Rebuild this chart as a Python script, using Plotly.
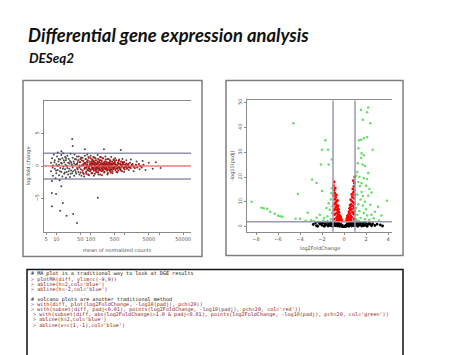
import plotly.graph_objects as go

W, H = 474, 355
def px(x): return x / W
def py(y): return 1 - y / H

title_text = "Differential gene expression analysis"
subtitle_text = "DESeq2"

# ---------------- MA plot data: (mean of normalized counts, log fold change)
ma_nonsig = [
    (7, 0.5), (7, -0.8), (7.5, 1.2), (8, -1.5), (8, 0.1), (8.5, 1.8), (9, -0.4), (9, 0.9), (9.5, -1.9),
    (10, 0.3), (10, -1.1), (10.5, 1.5), (11, -0.6), (11, 2.1), (11.5, 0.7), (12, -1.4), (12, 0.2),
    (12.5, -2.2), (13, 1.0), (13, -0.3), (14, 1.7), (14, -0.9), (14.5, 0.4), (15, -1.6), (15, 1.2),
    (16, -0.1), (16, 2.0), (17, -1.2), (17, 0.6), (18, 1.4), (18, -0.5), (19, -1.8), (19, 0.9),
    (20, 0.0), (20, -0.9), (21, 1.6), (22, -1.3), (22, 0.5), (23, 1.1), (24, -0.4), (25, -1.7),
    (25, 0.8), (26, 1.9), (27, -0.7), (28, 0.3), (29, -1.1), (30, 1.3), (30, -0.2), (32, 0.7),
    (33, -1.5), (34, 1.8), (35, -0.6), (36, 0.2), (38, 1.0), (38, -1.2), (40, -0.3), (40, 1.5),
    (7.8, -0.2), (8.8, 0.6), (9.8, -0.7), (10.8, 0.0), (11.8, 1.1), (12.8, -0.8), (13.8, 0.5),
    (15.5, -0.4), (16.5, 0.9), (17.5, -1.0), (18.5, 0.2), (19.5, 1.2), (21, -0.3), (23, -0.8),
    (24, 0.4), (26, -1.2), (27, 0.6), (29, 0.1), (31, -0.8), (33, 0.4), (35, 1.1), (37, -0.9),
    (42, 0.6), (44, -0.9), (45, 1.5), (47, -1.3), (48, 0.1), (50, 1.1), (52, -0.5), (54, -1.5),
    (55, 0.9), (58, 1.3), (60, -1.0), (62, 0.4), (65, -1.6), (68, 1.6), (70, -0.2), (72, 1.1),
    (75, -1.2), (78, 0.7), (80, 1.8), (85, -0.7), (88, 1.3), (90, -1.4), (95, 0.3), (100, 1.6),
    (105, -1.1), (110, 0.8), (115, -0.4), (120, 1.4), (125, -1.5), (130, 0.5), (140, 1.2),
    (150, -0.9), (160, 1.7), (170, -1.3), (180, 0.9), (190, 1.4), (200, -0.6), (215, -1.4),
    (230, 1.2), (250, -1.0), (270, 1.5), (290, 0.4), (310, -1.3), (340, 1.1), (370, -0.8),
    (400, 1.4), (440, -1.1), (480, 0.9), (520, 1.2), (600, -1.0), (680, 1.0), (760, -0.7),
    (850, 1.1), (950, -0.9), (1100, 0.9), (1300, -0.6), (1500, 1.0), (1800, -0.8), (2200, 0.7),
    (2700, -0.5), (3300, 0.8), (4000, -0.6), (5000, 0.5), (6500, -0.4), (8000, 0.6), (11000, -0.3),
    (29, 4.2), (30, 3.1), (68, 2.6), (245, 2.6), (760, 2.5), (14, 2.3),
    (7.4, -4.15), (9.8, -4.3), (7.4, -6.2), (15.5, -5.7), (13, -6.9), (20, -7.7), (31, -7.4),
    (40, -8.8), (162, -4.9), (7.4, -2.3), (14, -3.1),
]
ma_sig = [
    (40, 0.3), (42, -0.5), (44, 0.9), (47, -0.2), (49, 0.6), (51, -1.0), (53, 1.3), (56, 0.1),
    (58, -0.7), (61, 0.8), (63, -1.2), (65, 0.4), (68, -0.3), (70, 0.5), (72, 1.1), (74, -0.9),
    (77, 0.0), (79, 0.2), (81, -0.6), (83, 0.9), (85, -1.3), (87, 1.4), (89, -0.1), (91, -0.4),
    (94, 0.7), (96, -0.8), (98, 0.3), (101, 1.2), (103, 0.1), (106, -0.5), (108, 0.6), (110, -1.1),
    (112, 1.0), (114, -0.2), (117, 0.4), (119, -0.3), (122, 0.8), (125, -0.7), (127, 0.2),
    (129, 1.3), (132, -1.2), (134, 0.0), (137, 0.5), (140, -0.6), (143, 0.9), (146, -0.9),
    (148, 0.3), (151, -0.2), (154, 0.4), (157, -0.4), (160, 0.7), (163, -1.0), (166, 1.1),
    (169, 0.1), (172, -0.7), (175, -0.1), (178, 0.6), (182, -0.5), (186, 0.2), (190, -1.3),
    (194, 0.9), (198, 1.4), (202, 0.3), (206, -0.3), (210, 0.8), (215, -0.8), (220, 0.0),
    (225, 1.2), (230, -0.6), (235, 0.5), (240, -0.2), (246, 0.4), (252, -0.9), (258, 0.7),
    (264, 0.1), (270, -0.5), (276, 1.0), (282, 0.2), (289, -0.4), (296, 0.6), (303, -0.7),
    (310, 1.1), (318, -1.1), (326, 0.0), (334, -0.1), (342, 0.5), (350, -0.6), (360, 0.3),
    (370, 0.9), (380, -0.3), (390, -1.0), (400, 0.1), (410, -0.5), (422, 0.7), (434, -0.8),
    (446, 0.4), (458, -0.2), (470, 1.0), (483, -0.3), (496, 0.3), (510, 0.6), (525, -0.6),
    (540, 0.0), (556, 0.9), (572, -0.9), (590, 0.2), (608, -0.4), (626, 0.5), (645, -0.7),
    (665, 0.8), (686, -0.1), (708, -0.2), (730, 0.4), (755, -0.5), (780, 0.7), (806, 0.1),
    (833, -0.8), (860, 0.6), (890, 0.3), (920, -0.3), (950, 0.6), (985, -0.5), (1020, 0.2),
    (1060, -0.1), (1100, 0.4), (1150, -0.4), (1200, 0.2), (1260, 0.3), (1320, -0.2), (1400, 0.5),
    (1480, -0.3), (1570, 0.1), (1680, 0.3), (1800, -0.1), (1950, -0.3), (2100, 0.2), (2300, -0.2),
    (2550, 0.3), (2800, 0.0), (3100, -0.2), (3500, 0.2),
]
ma_sig_core = [
    (62, 0.15), (66, -0.45), (71, 0.35), (76, -0.25), (82, 0.55), (88, -0.35), (93, 0.1),
    (99, -0.6), (104, 0.45), (109, -0.15), (116, 0.25), (121, -0.45), (128, 0.6), (135, -0.3),
    (141, 0.15), (147, -0.55), (155, 0.35), (161, -0.1), (168, 0.5), (176, -0.35), (184, 0.05),
    (192, -0.65), (200, 0.45), (208, -0.2), (217, 0.3), (226, -0.45), (236, 0.15), (244, -0.05),
    (254, 0.55), (262, -0.35), (272, 0.25), (285, -0.15), (298, 0.4), (312, -0.5), (324, 0.2),
    (338, -0.25), (354, 0.1), (366, 0.6), (384, -0.6), (398, 0.35), (416, -0.1), (430, 0.2),
    (452, -0.45), (476, 0.45), (500, -0.15), (530, 0.25), (560, -0.35), (596, 0.1), (632, -0.2),
    (672, 0.35), (716, -0.4), (768, 0.2), (820, -0.1), (880, 0.45), (940, -0.25), (1040, 0.1),
    (1130, -0.2), (1240, 0.1), (1380, -0.1), (1620, 0.2),
]
ma_zero_line = 0
ma_hlines = [2, -2]
ma_xticks = [5, 10, 50, 100, 500, 1000, 5000, 10000, 50000]
ma_xticklabels = ["5", "10", "50", "100", "500", "", "5000", "", "50000"]
ma_yticks = [-5, 0, 5]

# ---------------- Volcano plot data: (log2FoldChange, -log10(padj))
volc_black = [
    (-2.8, 0.9), (-2.6, 1.5), (-2.5, 0.4), (-2.3, 1.8), (-2.2, 1.1), (-2.0, 0.6), (-1.9, 1.6),
    (-1.8, 0.2), (-1.7, 1.3), (-1.6, 0.8), (-1.5, 1.9), (-1.45, 0.3), (-1.4, 1.0), (-1.3, 1.5),
    (-1.25, 0.5), (-1.2, 1.8), (-1.1, 0.9), (-1.05, 0.2), (-1.0, 1.4), (-0.95, 0.6), (-0.9, 1.7),
    (-0.85, 1.1), (-0.8, 0.4), (-0.75, 1.9), (-0.7, 0.8), (-0.65, 1.3), (-0.6, 0.3), (-0.55, 1.6),
    (-0.5, 0.7), (-0.45, 1.1), (-0.4, 0.2), (-0.35, 0.9), (-0.3, 0.5), (-0.25, 0.3), (-0.2, 0.6),
    (-0.15, 0.1), (-0.1, 0.3), (-0.05, 0.1), (0.0, 0.05), (0.05, 0.15), (0.1, 0.3), (0.15, 0.1),
    (0.2, 0.6), (0.25, 0.3), (0.3, 0.8), (0.35, 0.4), (0.4, 1.1), (0.45, 0.2), (0.5, 1.4),
    (0.55, 0.6), (0.6, 1.8), (0.65, 0.9), (0.7, 0.3), (0.75, 1.5), (0.8, 1.0), (0.85, 0.5),
    (0.9, 1.9), (0.95, 1.2), (1.0, 0.4), (1.05, 1.6), (1.1, 0.8), (1.2, 1.3), (1.25, 0.2),
    (1.3, 1.8), (1.4, 0.7), (1.5, 1.4), (1.6, 0.3), (1.7, 1.1), (1.8, 1.7), (1.9, 0.6),
    (2.0, 1.3), (2.1, 0.2), (2.3, 1.6), (2.4, 0.9), (2.6, 1.2), (2.8, 0.5), (3.0, 1.0), (3.3, 0.7),
    (-2.4, 0.2), (-2.1, 1.4), (-1.75, 0.6), (-1.35, 0.7), (-1.15, 1.2), (-0.7, 1.6), (-0.5, 1.2),
    (-0.3, 0.9), (0.3, 1.2), (0.5, 0.9), (0.7, 1.3), (1.15, 1.9), (1.45, 1.0), (1.75, 0.4),
    (2.2, 1.0), (2.5, 0.4), (3.5, 0.3),
]
volc_red = [
    (-0.2, 2.2), (-0.3, 2.5), (-0.4, 2.3), (-0.5, 2.8), (-0.25, 3.0), (-0.35, 3.4), (-0.45, 3.8),
    (-0.55, 3.2), (-0.6, 2.6), (-0.3, 4.0), (-0.4, 4.6), (-0.5, 5.0), (-0.6, 4.2), (-0.7, 3.6),
    (-0.65, 5.5), (-0.45, 5.8), (-0.55, 6.3), (-0.7, 6.8), (-0.8, 5.2), (-0.5, 7.0), (-0.6, 7.6),
    (-0.75, 8.0), (-0.85, 7.2), (-0.65, 8.8), (-0.55, 8.4), (-0.8, 9.5), (-0.7, 10.0), (-0.9, 9.0),
    (-0.6, 10.6), (-0.85, 11.0), (-0.75, 11.8), (-0.95, 12.5), (-0.7, 12.8), (-0.85, 13.5),
    (-0.9, 14.6), (-0.8, 15.5), (-0.95, 16.5), (-0.9, 18.0), (-0.92, 3.0), (-0.88, 4.8), (-0.95, 6.5),
    (0.2, 2.2), (0.3, 2.6), (0.4, 2.3), (0.5, 2.9), (0.25, 3.2), (0.35, 3.6), (0.45, 4.0),
    (0.55, 3.3), (0.65, 2.7), (0.3, 4.3), (0.4, 4.9), (0.5, 5.4), (0.6, 4.5), (0.7, 3.8),
    (0.75, 5.8), (0.45, 6.0), (0.55, 6.6), (0.7, 7.0), (0.85, 5.5), (0.5, 7.4), (0.6, 8.0),
    (0.8, 8.4), (0.9, 7.5), (0.65, 9.0), (0.55, 8.7), (0.85, 9.8), (0.7, 10.3), (0.95, 9.3),
    (0.6, 10.9), (0.9, 11.4), (0.75, 12.0), (0.95, 12.8), (0.7, 13.0), (0.85, 13.8), (0.95, 14.5),
    (0.8, 15.2), (0.9, 16.2), (0.95, 17.5), (0.85, 18.5), (0.92, 3.1), (0.9, 5.0), (0.97, 6.3),
    (0.97, 20.0),
]
volc_green = [
    (-4.6, 41.6), (-1.7, 34.8), (-2.0, 31), (-1.45, 31), (-1.1, 27), (-2.1, 25), (-1.4, 25),
    (-2.9, 19), (-2.5, 17.6), (-4.2, 13.2), (-8.4, 10), (-7.5, 7.6), (-7.3, 7.4), (-7.0, 7.2),
    (-6.7, 6.0), (-6.3, 5.2), (-6.0, 4.4), (-5.8, 4.2), (-5.6, 4.0), (-4.4, 3.2), (-4.0, 3.2),
    (-3.3, 5.6), (-1.2, 3.0), (-1.5, 4.2), (-1.8, 3.5), (-1.1, 5.5), (-1.3, 6.8), (-1.6, 7.5),
    (-2.2, 4.8), (-1.05, 8.2), (-1.4, 9.4), (-2.5, 3.6), (-3.0, 2.6), (-1.2, 11), (-1.9, 2.5),
    (-2.7, 2.3), (-3.5, 2.4), (-1.15, 13.5), (-1.1, 15.5), (-2.0, 14.4),
    (1.55, 47), (2.2, 48), (2.1, 46), (1.7, 43), (2.4, 41.6), (1.35, 34.8), (1.55, 35),
    (1.8, 35.6), (2.1, 36), (2.6, 31), (1.3, 31.6), (1.6, 29.6), (1.8, 28.8), (1.55, 27.6),
    (1.7, 25), (1.9, 24.4), (2.2, 21.6), (2.1, 19.2), (2.3, 15.2), (1.45, 16.4), (1.7, 12.4),
    (3.9, 10.4), (3.1, 8), (2.5, 4.8), (1.2, 22), (1.4, 20), (1.3, 18), (1.6, 14), (1.2, 13),
    (1.5, 11), (1.9, 10), (2.2, 12.5), (1.3, 9), (1.7, 8.5), (2.0, 7.0), (2.4, 8.8), (1.1, 7.5),
    (1.4, 6.2), (1.8, 5.5), (2.1, 4.5), (1.2, 4.8), (1.5, 3.5), (1.9, 3.0), (2.3, 2.8), (2.7, 3.4),
    (3.2, 2.5), (1.1, 3.0), (1.35, 2.4), (2.8, 6.0), (1.6, 17.5), (2.0, 16.5), (1.25, 25.5),
    (1.1, 20.5), (2.5, 13.8), (1.8, 19.5), (3.4, 4.5),
]
volc_hline = 2
volc_vlines = [1, -1]
volc_xticks = [-8, -6, -4, -2, 0, 2, 4]
volc_yticks = [0, 10, 20, 30, 40, 50]

code_lines = [
    "# MA plot is a traditional way to look at DGE results",
    "> plotMA(diff, ylim=c(-9,9))",
    "> abline(h=2,col='blue')",
    "> abline(h=-2,col='blue')",
    "",
    "# volcano plots are another traditional method",
    "> with(diff, plot(log2FoldChange, -log10(padj), pch=20))",
    "> with(subset(diff, padj<0.01), points(log2FoldChange, -log10(padj), pch=20, col='red'))",
    "> with(subset(diff, abs(log2FoldChange)>1.0 & padj<0.01), points(log2FoldChange, -log10(padj), pch=20, col='green'))",
    "> abline(h=2,col='blue')",
    "> abline(v=c(1,-1),col='blue')",
]
code_indent = [0, 0, 0, 0, 0, 0, 0, 0, 1, 1, 1]

fig = go.Figure()

def add_pts(pts, color, size, xa, ya):
    fig.add_trace(go.Scatter(
        x=[p[0] for p in pts], y=[p[1] for p in pts], mode="markers",
        marker=dict(color=color, size=size, line=dict(width=0)),
        xaxis=xa, yaxis=ya, showlegend=False, hoverinfo="skip"))

add_pts(ma_nonsig, "#4a4a4a", 2, "x", "y")
add_pts(ma_sig, "#b21515", 2.2, "x", "y")
add_pts(ma_sig_core, "#9a1a1a", 2.2, "x", "y")
add_pts(volc_black, "#000000", 2.8, "x2", "y2")
add_pts(volc_red, "#ff0000", 2.8, "x2", "y2")
add_pts(volc_green, "#66dd66", 2.5, "x2", "y2")

axis_common = dict(showgrid=False, zeroline=False, showline=True, linecolor="#8a8a8a",
                   linewidth=1, ticks="outside", ticklen=2, tickcolor="#8a8a8a",
                   tickfont=dict(size=5, color="#555555", family="DejaVu Sans"))

fig.update_layout(
    width=W, height=H, margin=dict(l=0, r=0, t=0, b=0),
    paper_bgcolor="white", plot_bgcolor="white", showlegend=False,
    xaxis=dict(axis_common, type="log", range=[0.64, 4.93], domain=[px(44), px(191)],
               anchor="y", mirror=True, tickvals=ma_xticks, ticktext=ma_xticklabels),
    yaxis=dict(axis_common, range=[-10.15, 10], domain=[py(231), py(100)], anchor="x",
               tickvals=ma_yticks, tickangle=-90),
    xaxis2=dict(axis_common, range=[-8.82, 4.36], domain=[px(247), px(392)], anchor="y2",
                mirror=True, tickvals=volc_xticks),
    yaxis2=dict(axis_common, range=[-2, 50.8], domain=[py(231), py(99)], anchor="x2",
                tickvals=volc_yticks, tickangle=-90),
)

shapes = []
shapes.append(dict(type="line", xref="x domain", yref="y", x0=0, x1=1, y0=ma_zero_line,
                   y1=ma_zero_line, line=dict(color="rgba(235,90,90,0.8)", width=1.5), layer="above"))
for h in ma_hlines:
    shapes.append(dict(type="line", xref="x domain", yref="y", x0=0, x1=1, y0=h, y1=h,
                       line=dict(color="#5a5a80", width=1)))
shapes.append(dict(type="line", xref="x2 domain", yref="y2", x0=0, x1=1, y0=volc_hline,
                   y1=volc_hline, line=dict(color="#9a9ab4", width=1.3)))
for v in volc_vlines:
    shapes.append(dict(type="line", xref="x2", yref="y2 domain", x0=v, x1=v, y0=0, y1=1,
                       line=dict(color="#9a9ab4", width=1.5)))
shapes.append(dict(type="rect", xref="paper", yref="paper", x0=px(23), x1=px(202), y0=py(256),
                   y1=py(79), line=dict(color="#7f7f7f", width=1.5)))
shapes.append(dict(type="rect", xref="paper", yref="paper", x0=px(226), x1=px(403), y0=py(255),
                   y1=py(79), line=dict(color="#7f7f7f", width=1.5)))
shapes.append(dict(type="rect", xref="paper", yref="paper", x0=px(27), x1=px(403), y0=py(362),
                   y1=py(269), line=dict(color="#111111", width=1.5)))
fig.update_layout(shapes=shapes)

ann = []
def add_text(text, x, y, size, color, family, xanchor="center", angle=0):
    ann.append(dict(text=text, x=px(x), y=py(y), xref="paper", yref="paper", xanchor=xanchor,
                    yanchor="middle", showarrow=False, textangle=angle, borderpad=0,
                    font=dict(size=size, family=family, color=color)))

add_text("<b><i>" + title_text + "</i></b>", 27, 33, 18.4, "#111111", "Lato", "left")
add_text("<b><i>" + subtitle_text + "</i></b>", 28, 56, 13.5, "#111111", "Lato", "left")
add_text("log fold change", 28, 165, 5, "#555555", "DejaVu Sans", angle=-90)
add_text("mean of normalized counts", 117, 249, 5, "#555555", "DejaVu Sans")
add_text("-log10(padj)", 232, 165, 5, "#555555", "DejaVu Sans", angle=-90)
add_text("log2FoldChange", 320, 248, 5, "#555555", "DejaVu Sans")

line_y = [273.2, 278.6, 283.8, 289.0, 294.2, 299.2, 304.2, 309.2, 314.2, 319.2, 324.6]
for txt, ind, yy in zip(code_lines, code_indent, line_y):
    if not txt:
        continue
    col = "#111111" if txt.startswith("#") else "#8b1a1a"
    add_text(txt, 30 + 1.5 * ind, yy, 5.1, col, "DejaVu Sans Mono", "left")
fig.update_layout(annotations=ann)

fig.write_html("out.html")
